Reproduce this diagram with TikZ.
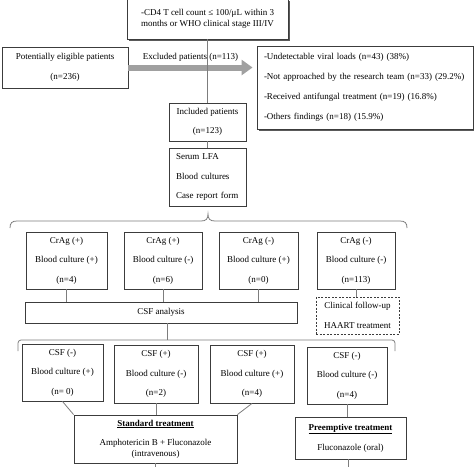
\documentclass[tikz,border=0pt]{standalone}
\usepackage{fontspec}
\setmainfont{Liberation Serif}
\usetikzlibrary{arrows.meta,shadows}
\definecolor{boxc}{RGB}{60,60,60}
\definecolor{linec}{RGB}{125,125,125}
\definecolor{arrowc}{RGB}{160,160,160}
\definecolor{shadc}{RGB}{90,90,90}
\begin{document}
\begin{tikzpicture}[x=1pt,y=-1pt,
  box/.style={draw=boxc, line width=0.9pt, inner sep=0pt, align=center,
    font=\fontsize{9}{19.5}\selectfont, fill=white},
  shad/.style={drop shadow={shadow xshift=1.6pt, shadow yshift=-1.6pt, fill=shadc, opacity=1}},
  dbox/.style={box, dashed, dash pattern=on 2pt off 1.5pt},
  conn/.style={draw=linec, line width=0.8pt},
  lab/.style={inner sep=0pt, font=\fontsize{9}{11}\selectfont},
  bigarrow/.style={draw=arrowc, line width=6pt, -{Triangle[length=11pt,width=15pt]}}
]
\useasboundingbox (0,0) rectangle (474,474);

% top criterion box
\node[box, shad, font=\fontsize{9}{10.5}\selectfont, minimum width=161pt, minimum height=40pt] (top) at (207.5,19)
  {-CD4 T cell count ≤ 100/μL within 3\\months or WHO clinical stage III/IV};

\node[box, minimum width=126pt, minimum height=41pt] (elig) at (65,67.5)
  {Potentially eligible patients\\(n=236)};

\node[box, shad, align=left, font=\fontsize{9}{20}\selectfont, text width=202pt, inner xsep=7pt,
  minimum height=83pt] (excl) at (365,87.5)
  {-Undetectable viral loads (n=43) (38\%)\\
   -Not approached by the research team (n=33) (29.2\%)\\
   -Received antifungal treatment (n=19) (16.8\%)\\
   -Others findings (n=18) (15.9\%)};

\draw[bigarrow, shorten >=4pt] (elig.east) -- (elig.east -| excl.west);
\node[lab] (exlab) at (190.5,57) {Excluded patients (n=113)};

\node[box, minimum width=77pt, minimum height=38pt] (incl) at (207.5,122)
  {Included patients\\(n=123)};
\node[box, align=left, text width=63pt, inner xsep=7pt, minimum height=58pt] (serum) at (207.5,177)
  {Serum LFA\\Blood cultures\\Case report form};

\draw[conn] (top.south -| incl.north) -- (incl.north);
\draw[conn] (incl.south) -- (serum.north);

% brace
\draw[conn] (10,228) .. controls (10,223) and (12,221) .. (17,221) -- (201,221)
  .. controls (206,221) and (208,219) .. (208,214)
  .. controls (208,219) and (210,221) .. (215,221) -- (400,221)
  .. controls (405,221) and (407,223) .. (407,228);

% row 1
\node[box, minimum width=81pt, minimum height=57pt] (c1) at (66.5,260.5) {CrAg (+)\\Blood culture (+)\\(n=4)};
\node[box, minimum width=78pt, minimum height=57pt] (c2) at (163,260.5) {CrAg (+)\\Blood culture (-)\\(n=6)};
\node[box, minimum width=79pt, minimum height=57pt] (c3) at (258.5,260.5) {CrAg (-)\\Blood culture (+)\\(n=0)};
\node[box, minimum width=78pt, minimum height=57pt] (c4) at (356,260.5) {CrAg (-)\\Blood culture (-)\\(n=113)};

\node[box, minimum width=272pt, minimum height=21pt] (csfa) at (161,312.5) {CSF analysis};
\node[dbox, minimum width=83pt, minimum height=37pt] (clin) at (357.5,315.5) {Clinical follow-up\\HAART treatment};

\draw[conn] (c1.south) -- (c1.south |- csfa.north);
\draw[conn] (c2.south) -- (c2.south |- csfa.north);
\draw[conn] (c3.south) -- (c3.south |- csfa.north);
\draw[conn] (c4.south) -- (c4.south |- clin.north);

% bracket 2
\coordinate (br) at (167,340);
\draw[conn] ([xshift=6pt]csfa.south) -- (br);
\draw[conn, rounded corners=3pt] (18,351) -- (18,340) -- (395,340) -- (395,351);

% row 2
\node[box, minimum width=81pt, minimum height=57pt] (s1) at (62.5,372.5) {CSF (-)\\Blood culture (+)\\(n= 0)};
\node[box, minimum width=84pt, minimum height=58pt] (s2) at (156,374) {CSF (+)\\Blood culture (-)\\(n=2)};
\node[box, minimum width=84pt, minimum height=58pt] (s3) at (252,374) {CSF (+)\\Blood culture (+)\\(n=4)};
\node[box, minimum width=80pt, minimum height=57pt] (s4) at (347,375.5) {CSF (-)\\Blood culture (-)\\(n=4)};

\node[box, font=\fontsize{9}{11}\selectfont, minimum width=163pt, minimum height=48pt] (std) at (155.5,439)
  {\underline{\textbf{Standard treatment}}\\[8pt]Amphotericin B + Fluconazole\\(intravenous)};
\node[box, font=\fontsize{9}{20}\selectfont, minimum width=111pt, minimum height=42pt] (pre) at (350.5,438)
  {\underline{\textbf{Preemptive treatment}}\\Fluconazole (oral)};

\draw[conn] (s1.south) -- (std.north west);
\draw[conn] (s2.south) -- (s2.south |- std.north);
\draw[conn] (s3.south) -- (std.north east);
\draw[conn] (s4.south) -- (s4.south |- pre.north);

\coordinate (e1) at (155.5,467);
\coordinate (e2) at (348,467);
\draw[conn] (std.south) -- (e1);
\draw[conn] (pre.south -| e2) -- (e2);
\end{tikzpicture}
\end{document}
